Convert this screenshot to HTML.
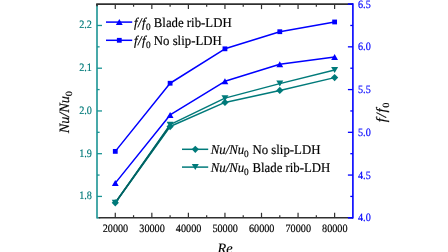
<!DOCTYPE html>
<html><head><meta charset="utf-8"><style>
html,body{margin:0;padding:0;background:#fff;}
body{width:448px;height:252px;overflow:hidden;}
svg{display:block;}
text{font-family:"Liberation Serif",serif;stroke-width:0.16px;text-rendering:geometricPrecision;}
</style></head><body>
<svg width="448" height="252" viewBox="0 0 448 252">
<rect width="448" height="252" fill="#fff"/>
<polyline points="115.28,151.38 170.11,83.25 224.95,48.81 279.79,31.71 334.62,21.97" fill="none" stroke="#0000ff" stroke-width="1.5" stroke-linejoin="round"/>
<polyline points="115.28,183.10 170.11,114.97 224.95,81.29 279.79,64.28 334.62,57.10" fill="none" stroke="#0000ff" stroke-width="1.5" stroke-linejoin="round"/>
<polyline points="115.28,202.84 170.11,124.63 224.95,98.13 279.79,83.60 334.62,69.92" fill="none" stroke="#007a7a" stroke-width="1.5" stroke-linejoin="round"/>
<polyline points="115.28,202.84 170.11,126.55 224.95,102.40 279.79,90.43 334.62,77.61" fill="none" stroke="#007a7a" stroke-width="1.5" stroke-linejoin="round"/>
<line x1="115.28" y1="202.84" x2="170.11" y2="125.48" stroke="#006262" stroke-width="1.7"/>
<rect x="112.88" y="148.98" width="4.80" height="4.80" fill="#0000ff"/>
<rect x="167.71" y="80.85" width="4.80" height="4.80" fill="#0000ff"/>
<rect x="222.55" y="46.41" width="4.80" height="4.80" fill="#0000ff"/>
<rect x="277.39" y="29.31" width="4.80" height="4.80" fill="#0000ff"/>
<rect x="332.22" y="19.57" width="4.80" height="4.80" fill="#0000ff"/>
<polygon points="115.28,180.10 111.88,186.10 118.68,186.10" fill="#0000ff"/>
<polygon points="170.11,111.97 166.71,117.97 173.51,117.97" fill="#0000ff"/>
<polygon points="224.95,78.29 221.55,84.29 228.35,84.29" fill="#0000ff"/>
<polygon points="279.79,61.28 276.39,67.28 283.19,67.28" fill="#0000ff"/>
<polygon points="334.62,54.10 331.22,60.10 338.02,60.10" fill="#0000ff"/>
<polygon points="115.28,199.24 118.88,202.84 115.28,206.44 111.68,202.84" fill="#007a7a"/>
<polygon points="170.11,122.95 173.71,126.55 170.11,130.15 166.51,126.55" fill="#007a7a"/>
<polygon points="224.95,98.80 228.55,102.40 224.95,106.00 221.35,102.40" fill="#007a7a"/>
<polygon points="279.79,86.83 283.39,90.43 279.79,94.03 276.19,90.43" fill="#007a7a"/>
<polygon points="334.62,74.01 338.22,77.61 334.62,81.21 331.02,77.61" fill="#007a7a"/>
<polygon points="115.28,205.84 111.78,199.84 118.78,199.84" fill="#007a7a"/>
<polygon points="170.11,127.63 166.61,121.63 173.61,121.63" fill="#007a7a"/>
<polygon points="224.95,101.13 221.45,95.13 228.45,95.13" fill="#007a7a"/>
<polygon points="279.79,86.60 276.29,80.60 283.29,80.60" fill="#007a7a"/>
<polygon points="334.62,72.92 331.12,66.92 338.12,66.92" fill="#007a7a"/>
<line x1="97.00" y1="4.10" x2="97.00" y2="218.60" stroke="#1a9494" stroke-width="1.6" stroke-linecap="butt"/>
<line x1="97.00" y1="217.80" x2="100.20" y2="217.80" stroke="#1a9494" stroke-width="1.3" stroke-linecap="butt"/>
<line x1="97.00" y1="196.43" x2="102.00" y2="196.43" stroke="#1a9494" stroke-width="1.3" stroke-linecap="butt"/>
<line x1="97.00" y1="175.06" x2="99.60" y2="175.06" stroke="#1a9494" stroke-width="1.3" stroke-linecap="butt"/>
<line x1="97.00" y1="153.69" x2="102.00" y2="153.69" stroke="#1a9494" stroke-width="1.3" stroke-linecap="butt"/>
<line x1="97.00" y1="132.32" x2="99.60" y2="132.32" stroke="#1a9494" stroke-width="1.3" stroke-linecap="butt"/>
<line x1="97.00" y1="110.95" x2="102.00" y2="110.95" stroke="#1a9494" stroke-width="1.3" stroke-linecap="butt"/>
<line x1="97.00" y1="89.58" x2="99.60" y2="89.58" stroke="#1a9494" stroke-width="1.3" stroke-linecap="butt"/>
<line x1="97.00" y1="68.21" x2="102.00" y2="68.21" stroke="#1a9494" stroke-width="1.3" stroke-linecap="butt"/>
<line x1="97.00" y1="46.84" x2="99.60" y2="46.84" stroke="#1a9494" stroke-width="1.3" stroke-linecap="butt"/>
<line x1="97.00" y1="25.47" x2="102.00" y2="25.47" stroke="#1a9494" stroke-width="1.3" stroke-linecap="butt"/>
<line x1="98.60" y1="217.80" x2="352.90" y2="217.80" stroke="#303030" stroke-width="1.6" stroke-linecap="butt"/>
<line x1="96.20" y1="4.10" x2="352.90" y2="4.10" stroke="#303030" stroke-width="1.6" stroke-linecap="butt"/>
<line x1="97.00" y1="4.10" x2="97.00" y2="6.30" stroke="#303030" stroke-width="1.6" stroke-linecap="butt"/>
<line x1="115.28" y1="217.80" x2="115.28" y2="212.80" stroke="#303030" stroke-width="1.2" stroke-linecap="butt"/>
<line x1="115.28" y1="4.10" x2="115.28" y2="9.10" stroke="#303030" stroke-width="1.2" stroke-linecap="butt"/>
<line x1="133.56" y1="217.80" x2="133.56" y2="215.20" stroke="#303030" stroke-width="1.2" stroke-linecap="butt"/>
<line x1="133.56" y1="4.10" x2="133.56" y2="6.70" stroke="#303030" stroke-width="1.2" stroke-linecap="butt"/>
<line x1="151.84" y1="217.80" x2="151.84" y2="212.80" stroke="#303030" stroke-width="1.2" stroke-linecap="butt"/>
<line x1="151.84" y1="4.10" x2="151.84" y2="9.10" stroke="#303030" stroke-width="1.2" stroke-linecap="butt"/>
<line x1="170.11" y1="217.80" x2="170.11" y2="215.20" stroke="#303030" stroke-width="1.2" stroke-linecap="butt"/>
<line x1="170.11" y1="4.10" x2="170.11" y2="6.70" stroke="#303030" stroke-width="1.2" stroke-linecap="butt"/>
<line x1="188.39" y1="217.80" x2="188.39" y2="212.80" stroke="#303030" stroke-width="1.2" stroke-linecap="butt"/>
<line x1="188.39" y1="4.10" x2="188.39" y2="9.10" stroke="#303030" stroke-width="1.2" stroke-linecap="butt"/>
<line x1="206.67" y1="217.80" x2="206.67" y2="215.20" stroke="#303030" stroke-width="1.2" stroke-linecap="butt"/>
<line x1="206.67" y1="4.10" x2="206.67" y2="6.70" stroke="#303030" stroke-width="1.2" stroke-linecap="butt"/>
<line x1="224.95" y1="217.80" x2="224.95" y2="212.80" stroke="#303030" stroke-width="1.2" stroke-linecap="butt"/>
<line x1="224.95" y1="4.10" x2="224.95" y2="9.10" stroke="#303030" stroke-width="1.2" stroke-linecap="butt"/>
<line x1="243.23" y1="217.80" x2="243.23" y2="215.20" stroke="#303030" stroke-width="1.2" stroke-linecap="butt"/>
<line x1="243.23" y1="4.10" x2="243.23" y2="6.70" stroke="#303030" stroke-width="1.2" stroke-linecap="butt"/>
<line x1="261.51" y1="217.80" x2="261.51" y2="212.80" stroke="#303030" stroke-width="1.2" stroke-linecap="butt"/>
<line x1="261.51" y1="4.10" x2="261.51" y2="9.10" stroke="#303030" stroke-width="1.2" stroke-linecap="butt"/>
<line x1="279.79" y1="217.80" x2="279.79" y2="215.20" stroke="#303030" stroke-width="1.2" stroke-linecap="butt"/>
<line x1="279.79" y1="4.10" x2="279.79" y2="6.70" stroke="#303030" stroke-width="1.2" stroke-linecap="butt"/>
<line x1="298.06" y1="217.80" x2="298.06" y2="212.80" stroke="#303030" stroke-width="1.2" stroke-linecap="butt"/>
<line x1="298.06" y1="4.10" x2="298.06" y2="9.10" stroke="#303030" stroke-width="1.2" stroke-linecap="butt"/>
<line x1="316.34" y1="217.80" x2="316.34" y2="215.20" stroke="#303030" stroke-width="1.2" stroke-linecap="butt"/>
<line x1="316.34" y1="4.10" x2="316.34" y2="6.70" stroke="#303030" stroke-width="1.2" stroke-linecap="butt"/>
<line x1="334.62" y1="217.80" x2="334.62" y2="212.80" stroke="#303030" stroke-width="1.2" stroke-linecap="butt"/>
<line x1="334.62" y1="4.10" x2="334.62" y2="9.10" stroke="#303030" stroke-width="1.2" stroke-linecap="butt"/>
<line x1="352.90" y1="3.30" x2="352.90" y2="218.60" stroke="#0000ff" stroke-width="1.6" stroke-linecap="butt"/>
<line x1="352.90" y1="217.80" x2="347.90" y2="217.80" stroke="#0000ff" stroke-width="1.6" stroke-linecap="butt"/>
<line x1="352.90" y1="196.43" x2="350.30" y2="196.43" stroke="#0000ff" stroke-width="1.3" stroke-linecap="butt"/>
<line x1="352.90" y1="175.06" x2="347.90" y2="175.06" stroke="#0000ff" stroke-width="1.3" stroke-linecap="butt"/>
<line x1="352.90" y1="153.69" x2="350.30" y2="153.69" stroke="#0000ff" stroke-width="1.3" stroke-linecap="butt"/>
<line x1="352.90" y1="132.32" x2="347.90" y2="132.32" stroke="#0000ff" stroke-width="1.3" stroke-linecap="butt"/>
<line x1="352.90" y1="110.95" x2="350.30" y2="110.95" stroke="#0000ff" stroke-width="1.3" stroke-linecap="butt"/>
<line x1="352.90" y1="89.58" x2="347.90" y2="89.58" stroke="#0000ff" stroke-width="1.3" stroke-linecap="butt"/>
<line x1="352.90" y1="68.21" x2="350.30" y2="68.21" stroke="#0000ff" stroke-width="1.3" stroke-linecap="butt"/>
<line x1="352.90" y1="46.84" x2="347.90" y2="46.84" stroke="#0000ff" stroke-width="1.3" stroke-linecap="butt"/>
<line x1="352.90" y1="25.47" x2="350.30" y2="25.47" stroke="#0000ff" stroke-width="1.3" stroke-linecap="butt"/>
<line x1="352.90" y1="4.10" x2="347.90" y2="4.10" stroke="#0000ff" stroke-width="1.6" stroke-linecap="butt"/>
<text transform="translate(115.48,231.50) scale(1,1.1)" font-size="10.2" text-anchor="middle" fill="#000" stroke="#000" stroke-width="0.08">20000</text>
<text transform="translate(152.04,231.50) scale(1,1.1)" font-size="10.2" text-anchor="middle" fill="#000" stroke="#000" stroke-width="0.08">30000</text>
<text transform="translate(188.59,231.50) scale(1,1.1)" font-size="10.2" text-anchor="middle" fill="#000" stroke="#000" stroke-width="0.08">40000</text>
<text transform="translate(225.15,231.50) scale(1,1.1)" font-size="10.2" text-anchor="middle" fill="#000" stroke="#000" stroke-width="0.08">50000</text>
<text transform="translate(261.71,231.50) scale(1,1.1)" font-size="10.2" text-anchor="middle" fill="#000" stroke="#000" stroke-width="0.08">60000</text>
<text transform="translate(298.26,231.50) scale(1,1.1)" font-size="10.2" text-anchor="middle" fill="#000" stroke="#000" stroke-width="0.08">70000</text>
<text transform="translate(334.82,231.50) scale(1,1.1)" font-size="10.2" text-anchor="middle" fill="#000" stroke="#000" stroke-width="0.08">80000</text>
<text transform="translate(91.90,199.33) scale(1,1.1)" font-size="10.2" text-anchor="end" fill="#007a7a" stroke="#007a7a" stroke-width="0.08">1.8</text>
<text transform="translate(91.90,156.59) scale(1,1.1)" font-size="10.2" text-anchor="end" fill="#007a7a" stroke="#007a7a" stroke-width="0.08">1.9</text>
<text transform="translate(91.90,113.85) scale(1,1.1)" font-size="10.2" text-anchor="end" fill="#007a7a" stroke="#007a7a" stroke-width="0.08">2.0</text>
<text transform="translate(91.90,71.11) scale(1,1.1)" font-size="10.2" text-anchor="end" fill="#007a7a" stroke="#007a7a" stroke-width="0.08">2.1</text>
<text transform="translate(91.90,28.37) scale(1,1.1)" font-size="10.2" text-anchor="end" fill="#007a7a" stroke="#007a7a" stroke-width="0.08">2.2</text>
<text transform="translate(358.00,221.30) scale(1,1.1)" font-size="10.2" text-anchor="start" fill="#0000ff" stroke="#0000ff" stroke-width="0.08">4.0</text>
<text transform="translate(358.00,178.56) scale(1,1.1)" font-size="10.2" text-anchor="start" fill="#0000ff" stroke="#0000ff" stroke-width="0.08">4.5</text>
<text transform="translate(358.00,135.82) scale(1,1.1)" font-size="10.2" text-anchor="start" fill="#0000ff" stroke="#0000ff" stroke-width="0.08">5.0</text>
<text transform="translate(358.00,93.08) scale(1,1.1)" font-size="10.2" text-anchor="start" fill="#0000ff" stroke="#0000ff" stroke-width="0.08">5.5</text>
<text transform="translate(358.00,50.34) scale(1,1.1)" font-size="10.2" text-anchor="start" fill="#0000ff" stroke="#0000ff" stroke-width="0.08">6.0</text>
<text transform="translate(358.00,7.60) scale(1,1.1)" font-size="10.2" text-anchor="start" fill="#0000ff" stroke="#0000ff" stroke-width="0.08">6.5</text>
<text stroke="#000" x="225" y="252.5" font-size="14.3" text-anchor="middle" font-style="italic">Re</text>
<text stroke="#000" transform="translate(69.1,112.3) rotate(-90)" font-size="14.3" text-anchor="middle"><tspan font-style="italic">Nu/Nu</tspan><tspan font-size="9.5" dy="3">0</tspan></text>
<text stroke="#000" transform="translate(386.2,112.0) rotate(-90)" font-size="14.3" text-anchor="middle" letter-spacing="0.9"><tspan font-style="italic">f/f</tspan><tspan font-size="9.5" dy="3">0</tspan></text>
<line x1="106.00" y1="22.10" x2="132.20" y2="22.10" stroke="#0000ff" stroke-width="1.5" stroke-linecap="butt"/>
<polygon points="119.30,19.10 115.90,25.10 122.70,25.10" fill="#0000ff"/>
<text stroke="#000" transform="translate(134.00,26.50) scale(1,1.05)" font-size="12.8" font-style="italic" letter-spacing="0.4">f/f</text>
<text stroke="#000" transform="translate(145.90,30.10) scale(1,1.05)" font-size="9.3">0</text>
<text stroke="#000" transform="translate(153.80,26.50) scale(1,1.05)" font-size="12.8">Blade rib-LDH</text>
<line x1="106.00" y1="40.30" x2="132.20" y2="40.30" stroke="#0000ff" stroke-width="1.5" stroke-linecap="butt"/>
<rect x="116.90" y="37.90" width="4.80" height="4.80" fill="#0000ff"/>
<text stroke="#000" transform="translate(134.00,44.70) scale(1,1.05)" font-size="12.8" font-style="italic" letter-spacing="0.4">f/f</text>
<text stroke="#000" transform="translate(145.90,48.30) scale(1,1.05)" font-size="9.3">0</text>
<text stroke="#000" transform="translate(153.80,44.70) scale(1,1.05)" font-size="12.8">No slip-LDH</text>
<line x1="182.00" y1="149.30" x2="208.20" y2="149.30" stroke="#007a7a" stroke-width="1.5" stroke-linecap="butt"/>
<polygon points="195.30,145.70 198.90,149.30 195.30,152.90 191.70,149.30" fill="#007a7a"/>
<text stroke="#000" transform="translate(210.80,153.70) scale(1,1.05)" font-size="12.8" font-style="italic" letter-spacing="0">Nu/Nu</text>
<text stroke="#000" transform="translate(243.90,157.30) scale(1,1.05)" font-size="9.3">0</text>
<text stroke="#000" transform="translate(252.50,153.70) scale(1,1.05)" font-size="12.8">No slip-LDH</text>
<line x1="182.00" y1="167.10" x2="208.20" y2="167.10" stroke="#007a7a" stroke-width="1.5" stroke-linecap="butt"/>
<polygon points="195.30,170.10 191.80,164.10 198.80,164.10" fill="#007a7a"/>
<text stroke="#000" transform="translate(210.80,171.50) scale(1,1.05)" font-size="12.8" font-style="italic" letter-spacing="0">Nu/Nu</text>
<text stroke="#000" transform="translate(243.90,175.10) scale(1,1.05)" font-size="9.3">0</text>
<text stroke="#000" transform="translate(252.50,171.50) scale(1,1.05)" font-size="12.8">Blade rib-LDH</text>
</svg>
</body></html>
